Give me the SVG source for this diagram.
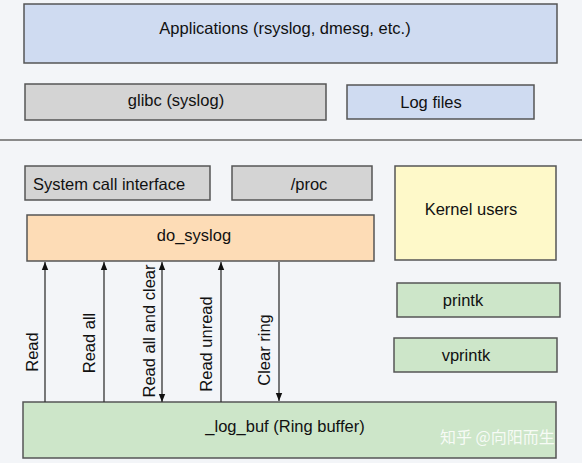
<svg xmlns="http://www.w3.org/2000/svg" width="582" height="463" viewBox="0 0 582 463">
<style>
.box{stroke:#555;stroke-width:1.5}
.blue{fill:#cfdbf1}
.gray{fill:#d4d4d4}
.orange{fill:#fddcb6}
.yellow{fill:#fef9c9}
.green{fill:#cde6c9}
text{font-family:"Liberation Sans",Arial,sans-serif;font-size:16.5px;fill:#111}
.c{text-anchor:middle}
.conn line{stroke:#333;stroke-width:1.3}
</style>
<defs>
<marker id="ah" viewBox="0 0 10 10" refX="10" refY="5" markerWidth="8" markerHeight="8" markerUnits="userSpaceOnUse" orient="auto-start-reverse">
<path d="M0,1 L10,5 L0,9 z" fill="#111"/>
</marker>
</defs>
<rect width="582" height="463" fill="#f3f5f8"/>
<g id="applications"><rect class="box blue" x="24" y="4" width="533" height="59"/><text class="c" x="285" y="34">Applications (rsyslog, dmesg, etc.)</text></g>
<g id="glibc"><rect class="box gray" x="25" y="84" width="301" height="36"/><text class="c" x="176" y="106">glibc (syslog)</text></g>
<g id="logfiles"><rect class="box blue" x="347" y="85" width="187" height="34"/><text class="c" x="431" y="108">Log files</text></g>
<line x1="0" y1="140" x2="582" y2="140" stroke="#8a8a8a" stroke-width="2"/>
<g id="syscall"><rect class="box gray" x="25" y="166" width="185" height="34"/><text x="33" y="190">System call interface</text></g>
<g id="proc"><rect class="box gray" x="232" y="166" width="140" height="34"/><text class="c" x="309" y="190">/proc</text></g>
<g id="do_syslog"><rect class="box orange" x="27" y="215" width="347" height="46"/><text class="c" x="194" y="241">do_syslog</text></g>
<g id="kernelusers"><rect class="box yellow" x="395" y="166" width="161" height="94"/><text class="c" x="471" y="215">Kernel users</text></g>
<g id="printk"><rect class="box green" x="397" y="283" width="163" height="34"/><text class="c" x="463" y="306">printk</text></g>
<g id="vprintk"><rect class="box green" x="394" y="338" width="163" height="34"/><text class="c" x="466" y="361">vprintk</text></g>
<g id="logbuf"><rect class="box green" x="23" y="402" width="533" height="56"/><text class="c" x="285" y="432">_log_buf (Ring buffer)</text></g>
<g class="conn" id="connectors">
<line x1="45" y1="402" x2="45" y2="262" marker-end="url(#ah)"/>
<line x1="104" y1="402" x2="104" y2="262" marker-end="url(#ah)"/>
<line x1="162" y1="402" x2="162" y2="262" marker-start="url(#ah)" marker-end="url(#ah)"/>
<line x1="221" y1="402" x2="221" y2="262" marker-end="url(#ah)"/>
<line x1="279" y1="262" x2="279" y2="401" marker-end="url(#ah)"/>
<text transform="translate(38,352) rotate(-90)" class="c">Read</text>
<text transform="translate(95,343) rotate(-90)" class="c">Read all</text>
<text transform="translate(155,331) rotate(-90)" class="c">Read all and clear</text>
<text transform="translate(212,344) rotate(-90)" class="c">Read unread</text>
<text transform="translate(270,350) rotate(-90)" class="c">Clear ring</text>
</g>
<text x="440" y="443" style="font-family:'Noto Sans CJK SC',sans-serif;font-size:16px;fill:#ffffff;fill-opacity:0.85">知乎 @向阳而生</text>
</svg>
